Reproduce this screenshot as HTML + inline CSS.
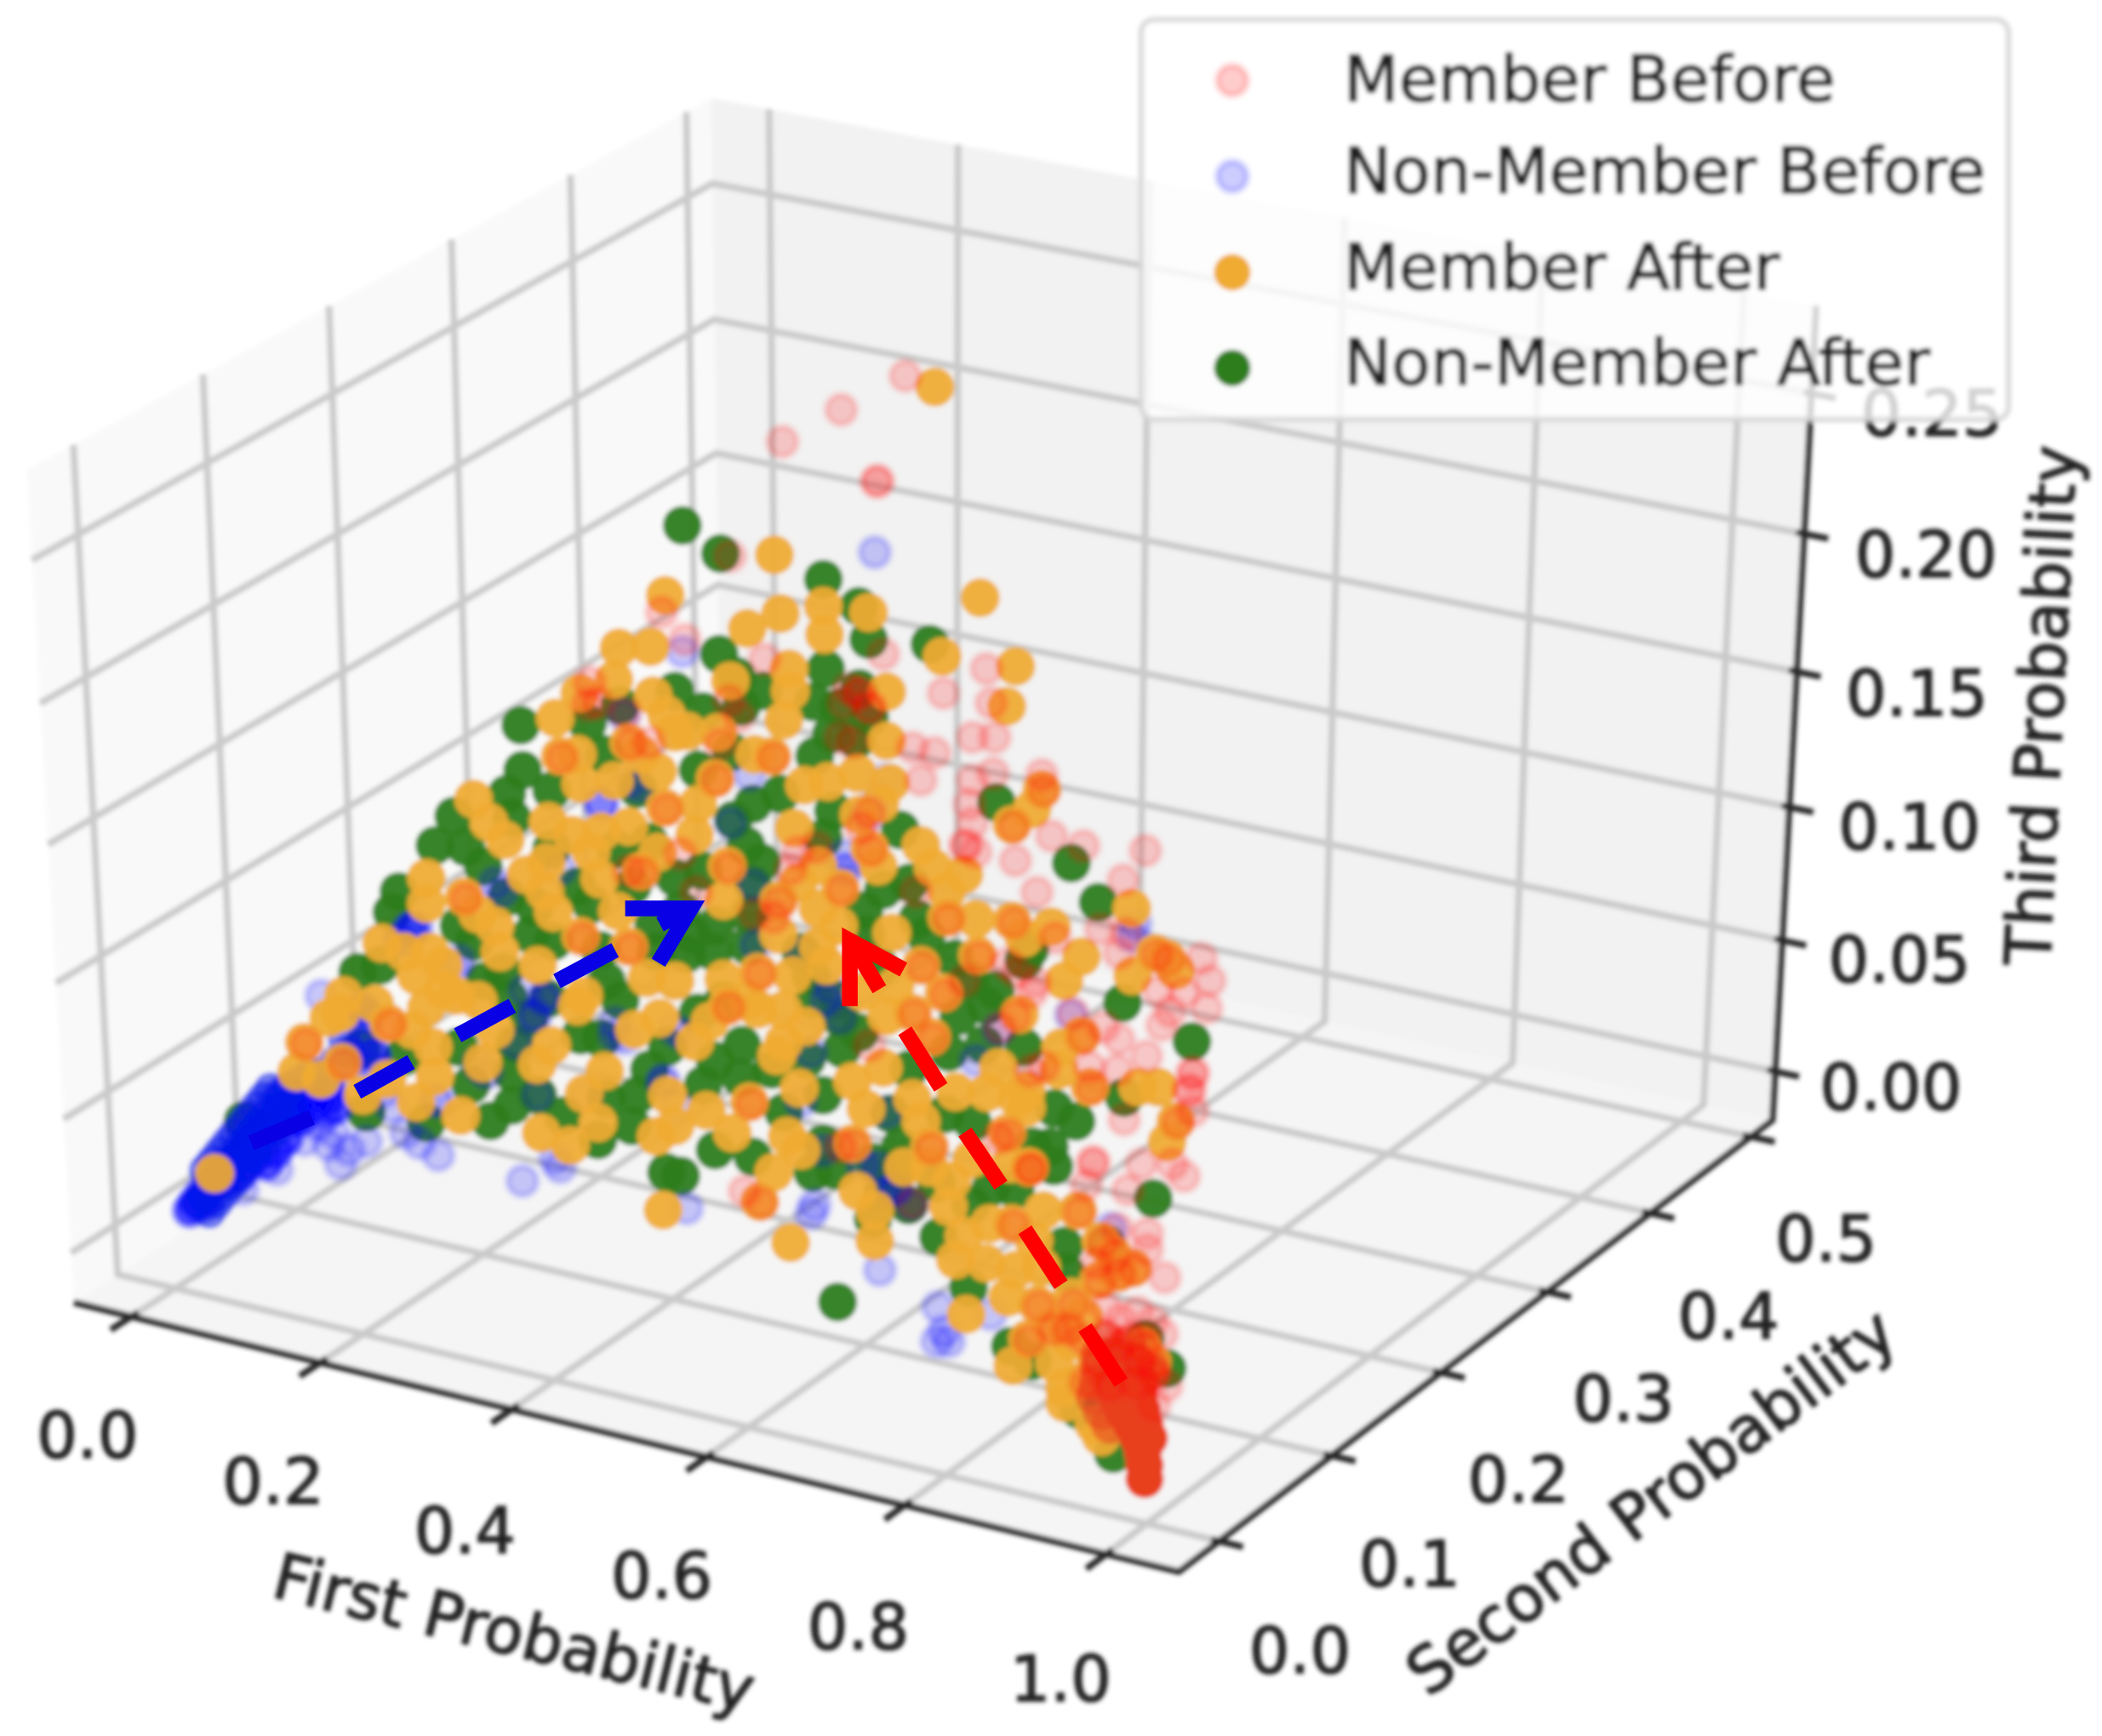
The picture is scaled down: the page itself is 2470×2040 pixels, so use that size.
<!DOCTYPE html>
<html><head><meta charset="utf-8"><title>Probability scatter</title><style>html,body{margin:0;padding:0;background:#fff}svg{display:block}</style></head><body>
<svg width="2470" height="2040" viewBox="0 0 2470 2040"><defs><filter id="b" x="0" y="0" width="100%" height="100%" filterUnits="userSpaceOnUse"><feGaussianBlur stdDeviation="2.6"/></filter></defs><rect width="2470" height="2040" fill="#fff"/><g filter="url(#b)">
<polygon points="86.8,1530.5 848.6,1044.4 835.9,115.6 31.7,552.3" fill="#f9f9f9"/>
<polygon points="848.6,1044.4 2082.6,1316.2 2134.2,359.3 835.9,115.6" fill="#f2f2f2"/>
<polygon points="86.8,1530.5 1385.1,1847.0 2082.6,1316.2 848.6,1044.4" fill="#f5f5f5"/>
<g fill="none" stroke="#cacaca" stroke-width="8" stroke-linejoin="round"><polyline points="154.6,1547.0 913.2,1058.6 903.7,128.3" /><polyline points="376.4,1601.1 1124.5,1105.2 1125.7,170.0" /><polyline points="601.7,1656.0 1338.9,1152.4 1351.1,212.3" /><polyline points="830.7,1711.8 1556.6,1200.3 1580.1,255.3" /><polyline points="1063.4,1768.5 1777.5,1249.0 1812.7,299.0" /><polyline points="1299.9,1826.2 2001.8,1298.4 2049.1,343.4" /><polyline points="1432.5,1811.0 138.3,1497.6 86.3,522.7" /><polyline points="1564.5,1710.5 282.2,1405.8 238.6,440.0" /><polyline points="1692.8,1612.8 422.3,1316.4 386.6,359.6" /><polyline points="1817.6,1517.8 558.6,1229.5 530.5,281.5" /><polyline points="1939.0,1425.4 691.3,1144.7 670.4,205.5" /><polyline points="2057.1,1335.6 820.7,1062.2 806.5,131.6" /><polyline points="83.5,1472.2 847.8,988.8 2085.6,1259.0" /><polyline points="74.7,1315.0 845.8,839.2 2094.0,1105.1" /><polyline points="65.7,1155.1 843.7,687.1 2102.4,948.5" /><polyline points="56.5,992.3 841.6,532.5 2111.0,789.3" /><polyline points="47.1,826.6 839.4,375.3 2119.7,627.3" /><polyline points="37.6,658.0 837.3,215.6 2128.6,462.5" /></g>
<g fill="none" stroke="#262626" stroke-width="7.5" stroke-linejoin="miter"><polyline points="86.8,1530.5 1385.1,1847.0 2082.6,1316.2 2134.2,359.3" /><polyline points="162.2,1542.1 130.2,1562.7" /><polyline points="383.9,1596.1 352.2,1617.1" /><polyline points="609.1,1650.9 577.7,1672.4" /><polyline points="838.0,1706.6 806.9,1728.5" /><polyline points="1070.6,1763.2 1039.9,1785.6" /><polyline points="1307.1,1820.8 1276.7,1843.6" /><polyline points="1423.7,1808.8 1460.6,1817.8" /><polyline points="1555.7,1708.4 1592.7,1717.2" /><polyline points="1684.1,1610.7 1721.1,1619.4" /><polyline points="1808.8,1515.8 1845.9,1524.3" /><polyline points="1930.2,1423.5 1967.3,1431.8" /><polyline points="2048.3,1333.6 2085.4,1341.8" /><polyline points="2076.9,1257.1 2114.0,1265.2" /><polyline points="2085.2,1103.2 2122.3,1111.1" /><polyline points="2093.6,946.7 2130.8,954.4" /><polyline points="2102.2,787.5 2139.4,795.1" /><polyline points="2110.9,625.6 2148.2,632.9" /><polyline points="2119.8,460.8 2157.1,468.0" /></g>
<g font-family="'DejaVu Sans','Liberation Sans',sans-serif" stroke="#222" stroke-width="1.7" stroke-linejoin="round"><text x="102.8" y="1712.7" font-size="75" text-anchor="middle" fill="#222">0.0</text><text x="321.0" y="1767.2" font-size="75" text-anchor="middle" fill="#222">0.2</text><text x="546.4" y="1825.1" font-size="75" text-anchor="middle" fill="#222">0.4</text><text x="777.7" y="1878.4" font-size="75" text-anchor="middle" fill="#222">0.6</text><text x="1008.5" y="1937.7" font-size="75" text-anchor="middle" fill="#222">0.8</text><text x="1246.3" y="1998.6" font-size="75" text-anchor="middle" fill="#222">1.0</text><text x="1527.5" y="1966.3" font-size="75" text-anchor="middle" fill="#222">0.0</text><text x="1656.3" y="1864.0" font-size="75" text-anchor="middle" fill="#222">0.1</text><text x="1784.4" y="1765.3" font-size="75" text-anchor="middle" fill="#222">0.2</text><text x="1907.7" y="1670.1" font-size="75" text-anchor="middle" fill="#222">0.3</text><text x="2031.1" y="1573.2" font-size="75" text-anchor="middle" fill="#222">0.4</text><text x="2145.7" y="1482.1" font-size="75" text-anchor="middle" fill="#222">0.5</text><text x="2222.0" y="1304.1" font-size="75" text-anchor="middle" fill="#222">0.00</text><text x="2232.0" y="1154.3" font-size="75" text-anchor="middle" fill="#222">0.05</text><text x="2243.8" y="997.9" font-size="75" text-anchor="middle" fill="#222">0.10</text><text x="2252.6" y="841.0" font-size="75" text-anchor="middle" fill="#222">0.15</text><text x="2263.2" y="677.7" font-size="75" text-anchor="middle" fill="#222">0.20</text><text x="2270.3" y="512.0" font-size="75" text-anchor="middle" fill="#222">0.25</text><text x="602.5" y="1944.9" font-size="75" text-anchor="middle" fill="#222" transform="rotate(13.70 602.5 1925.4)">First Probability</text><text x="1944.0" y="1789.5" font-size="75" text-anchor="middle" fill="#222" transform="rotate(-37.10 1944.0 1770.0)">Second Probability</text><text x="2404.5" y="848.5" font-size="75" text-anchor="middle" fill="#222" transform="rotate(-87.00 2404.5 829.0)">Third Probability</text></g>
<g fill="#2e7d1e" fill-opacity="0.95"><circle cx="801.8" cy="617.5" r="23"/><circle cx="846.5" cy="650.6" r="23"/><circle cx="967.5" cy="680.8" r="23"/><circle cx="1009.2" cy="712.5" r="23"/><circle cx="1020.7" cy="751.4" r="23"/><circle cx="1092.7" cy="757.1" r="23"/><circle cx="845.0" cy="768.7" r="23"/><circle cx="865.2" cy="794.6" r="23"/><circle cx="970.3" cy="785.9" r="23"/><circle cx="793.2" cy="811.9" r="23"/><circle cx="285.4" cy="1316.8" r="23"/><circle cx="1258.8" cy="1014.2" r="23"/><circle cx="1290.4" cy="1060.3" r="23"/><circle cx="1169.5" cy="1163.9" r="23"/><circle cx="806.6" cy="1120.7" r="23"/><circle cx="728.8" cy="1175.5" r="23"/><circle cx="985.1" cy="1175.5" r="23"/><circle cx="849.8" cy="1175.5" r="23"/><circle cx="1250.6" cy="1463.9" r="23"/><circle cx="1299.5" cy="1461.1" r="23"/><circle cx="1138.2" cy="1512.9" r="23"/><circle cx="1345.6" cy="1573.4" r="23"/><circle cx="1187.2" cy="1582.0" r="23"/><circle cx="1371.5" cy="1607.9" r="23"/><circle cx="1213.1" cy="1599.3" r="23"/><circle cx="984.2" cy="1529.9" r="23"/><circle cx="1268.3" cy="1656.9" r="23"/><circle cx="1308.2" cy="1708.3" r="23"/><circle cx="611.9" cy="852.3" r="23"/><circle cx="595.7" cy="932.9" r="23"/><circle cx="648.1" cy="928.9" r="23"/><circle cx="533.2" cy="959.1" r="23"/><circle cx="511.0" cy="993.4" r="23"/><circle cx="547.3" cy="995.4" r="23"/><circle cx="601.8" cy="961.1" r="23"/><circle cx="690.5" cy="850.2" r="23"/><circle cx="710.6" cy="886.5" r="23"/><circle cx="468.7" cy="1047.8" r="23"/><circle cx="460.6" cy="1072.0" r="23"/><circle cx="628.0" cy="1066.0" r="23"/><circle cx="694.5" cy="1061.9" r="23"/><circle cx="624.0" cy="1098.2" r="23"/><circle cx="539.3" cy="1088.1" r="23"/><circle cx="557.4" cy="1106.3" r="23"/><circle cx="648.1" cy="997.4" r="23"/><circle cx="763.1" cy="989.4" r="23"/><circle cx="742.9" cy="1041.8" r="23"/><circle cx="793.3" cy="1031.7" r="23"/><circle cx="420.3" cy="1142.6" r="23"/><circle cx="569.5" cy="1152.7" r="23"/><circle cx="591.7" cy="1142.6" r="23"/><circle cx="650.2" cy="1106.3" r="23"/><circle cx="712.7" cy="1152.7" r="23"/><circle cx="678.4" cy="1041.8" r="23"/><circle cx="771.1" cy="1118.4" r="23"/><circle cx="446.5" cy="1134.5" r="23"/><circle cx="826.2" cy="836.1" r="23"/><circle cx="820.2" cy="904.7" r="23"/><circle cx="957.3" cy="888.5" r="23"/><circle cx="884.7" cy="945.0" r="23"/><circle cx="916.9" cy="932.9" r="23"/><circle cx="979.4" cy="953.1" r="23"/><circle cx="1058.1" cy="975.2" r="23"/><circle cx="1171.0" cy="943.0" r="23"/><circle cx="876.6" cy="993.4" r="23"/><circle cx="894.8" cy="1013.5" r="23"/><circle cx="826.2" cy="1023.6" r="23"/><circle cx="884.7" cy="1039.8" r="23"/><circle cx="1037.9" cy="1045.8" r="23"/><circle cx="1021.8" cy="842.2" r="23"/><circle cx="1078.2" cy="1080.1" r="23"/><circle cx="840.3" cy="1088.1" r="23"/><circle cx="1088.3" cy="1100.2" r="23"/><circle cx="1203.2" cy="1128.5" r="23"/><circle cx="941.1" cy="1118.4" r="23"/><circle cx="1017.7" cy="1098.2" r="23"/><circle cx="953.2" cy="1146.6" r="23"/><circle cx="812.1" cy="1098.2" r="23"/><circle cx="539.3" cy="1230.5" r="23"/><circle cx="553.4" cy="1274.8" r="23"/><circle cx="601.8" cy="1260.7" r="23"/><circle cx="632.0" cy="1286.9" r="23"/><circle cx="601.8" cy="1299.0" r="23"/><circle cx="682.4" cy="1216.4" r="23"/><circle cx="706.6" cy="1220.4" r="23"/><circle cx="662.3" cy="1311.1" r="23"/><circle cx="763.1" cy="1256.7" r="23"/><circle cx="749.0" cy="1286.9" r="23"/><circle cx="702.6" cy="1339.4" r="23"/><circle cx="742.9" cy="1323.2" r="23"/><circle cx="783.2" cy="1377.7" r="23"/><circle cx="430.4" cy="1307.1" r="23"/><circle cx="501.0" cy="1319.2" r="23"/><circle cx="621.9" cy="1196.2" r="23"/><circle cx="712.7" cy="1291.0" r="23"/><circle cx="820.2" cy="1190.2" r="23"/><circle cx="840.3" cy="1246.6" r="23"/><circle cx="826.2" cy="1274.8" r="23"/><circle cx="870.6" cy="1266.8" r="23"/><circle cx="906.9" cy="1256.7" r="23"/><circle cx="921.0" cy="1307.1" r="23"/><circle cx="967.3" cy="1286.9" r="23"/><circle cx="840.3" cy="1351.5" r="23"/><circle cx="884.7" cy="1359.5" r="23"/><circle cx="955.2" cy="1377.7" r="23"/><circle cx="981.5" cy="1375.6" r="23"/><circle cx="1058.1" cy="1347.4" r="23"/><circle cx="1054.0" cy="1375.6" r="23"/><circle cx="1037.9" cy="1401.9" r="23"/><circle cx="987.5" cy="1196.2" r="23"/><circle cx="1126.6" cy="1194.2" r="23"/><circle cx="1158.9" cy="1182.1" r="23"/><circle cx="1114.5" cy="1236.5" r="23"/><circle cx="1068.1" cy="1256.7" r="23"/><circle cx="1142.7" cy="1319.2" r="23"/><circle cx="1203.2" cy="1230.5" r="23"/><circle cx="1140.7" cy="1416.0" r="23"/><circle cx="1100.4" cy="1389.8" r="23"/><circle cx="1025.8" cy="1432.1" r="23"/><circle cx="1213.3" cy="1347.4" r="23"/><circle cx="1193.1" cy="1397.8" r="23"/><circle cx="800.0" cy="1381.7" r="23"/><circle cx="1319.0" cy="1178.6" r="23"/><circle cx="1400.6" cy="1224.0" r="23"/><circle cx="1264.5" cy="1317.7" r="23"/><circle cx="1233.3" cy="1348.0" r="23"/><circle cx="1238.3" cy="1370.2" r="23"/><circle cx="1355.2" cy="1408.5" r="23"/><circle cx="1210.1" cy="1116.1" r="23"/><circle cx="1321.0" cy="1289.5" r="23"/><circle cx="878.6" cy="1111.5" r="23"/><circle cx="1015.2" cy="1070.1" r="23"/><circle cx="784.0" cy="1230.2" r="23"/><circle cx="424.6" cy="1231.8" r="23"/><circle cx="1067.5" cy="1416.3" r="23"/><circle cx="955.6" cy="824.9" r="23"/><circle cx="1164.7" cy="1395.2" r="23"/><circle cx="799.7" cy="1069.4" r="23"/><circle cx="989.4" cy="1232.5" r="23"/><circle cx="967.4" cy="985.1" r="23"/><circle cx="1238.9" cy="1302.4" r="23"/><circle cx="871.1" cy="830.2" r="23"/><circle cx="768.1" cy="1088.1" r="23"/><circle cx="749.2" cy="927.3" r="23"/><circle cx="1033.8" cy="1136.8" r="23"/><circle cx="1068.5" cy="1037.5" r="23"/><circle cx="1010.1" cy="1213.4" r="23"/><circle cx="879.7" cy="1074.2" r="23"/><circle cx="1102.7" cy="1453.4" r="23"/><circle cx="473.7" cy="1242.3" r="23"/><circle cx="871.9" cy="1228.0" r="23"/><circle cx="838.3" cy="1118.5" r="23"/><circle cx="976.9" cy="862.6" r="23"/><circle cx="861.8" cy="963.5" r="23"/><circle cx="1046.3" cy="1308.7" r="23"/><circle cx="859.6" cy="883.4" r="23"/><circle cx="1006.2" cy="869.2" r="23"/><circle cx="644.3" cy="1173.4" r="23"/><circle cx="705.5" cy="1116.7" r="23"/><circle cx="985.6" cy="831.3" r="23"/><circle cx="728.7" cy="828.9" r="23"/><circle cx="576.3" cy="1317.2" r="23"/><circle cx="724.4" cy="998.3" r="23"/><circle cx="567.7" cy="1018.0" r="23"/><circle cx="1156.2" cy="1227.4" r="23"/><circle cx="595.7" cy="1054.2" r="23"/><circle cx="896.4" cy="811.9" r="23"/><circle cx="614.2" cy="905.0" r="23"/><circle cx="1110.7" cy="1308.9" r="23"/><circle cx="967.3" cy="1344.0" r="23"/><circle cx="1121.3" cy="1126.8" r="23"/><circle cx="1139.6" cy="1152.0" r="23"/><circle cx="1252.1" cy="1495.0" r="23"/><circle cx="1026.3" cy="1365.7" r="23"/><circle cx="947.8" cy="1244.6" r="23"/><circle cx="1009.9" cy="809.0" r="23"/><circle cx="605.1" cy="1226.7" r="23"/><circle cx="597.7" cy="1172.5" r="23"/><circle cx="955.8" cy="1174.2" r="23"/></g>
<g fill="#0000ff" fill-opacity="0.2" stroke="#0000ff" stroke-opacity="0.13" stroke-width="9"><circle cx="1027.9" cy="649.1" r="17.5"/><circle cx="801.8" cy="765.8" r="17.5"/><circle cx="227.8" cy="1414.7" r="17.5"/><circle cx="228.8" cy="1413.7" r="17.5"/><circle cx="229.8" cy="1412.7" r="17.5"/><circle cx="230.8" cy="1411.7" r="17.5"/><circle cx="236.4" cy="1403.2" r="17.5"/><circle cx="237.4" cy="1402.2" r="17.5"/><circle cx="238.4" cy="1401.2" r="17.5"/><circle cx="239.4" cy="1400.2" r="17.5"/><circle cx="247.9" cy="1394.6" r="17.5"/><circle cx="248.9" cy="1393.6" r="17.5"/><circle cx="249.9" cy="1392.6" r="17.5"/><circle cx="250.9" cy="1391.6" r="17.5"/><circle cx="259.4" cy="1380.2" r="17.5"/><circle cx="260.4" cy="1379.2" r="17.5"/><circle cx="261.4" cy="1378.2" r="17.5"/><circle cx="262.4" cy="1377.2" r="17.5"/><circle cx="271.0" cy="1368.7" r="17.5"/><circle cx="272.0" cy="1367.7" r="17.5"/><circle cx="273.0" cy="1366.7" r="17.5"/><circle cx="274.0" cy="1365.7" r="17.5"/><circle cx="282.5" cy="1357.1" r="17.5"/><circle cx="283.5" cy="1356.1" r="17.5"/><circle cx="284.5" cy="1355.1" r="17.5"/><circle cx="285.5" cy="1354.1" r="17.5"/><circle cx="294.0" cy="1345.6" r="17.5"/><circle cx="295.0" cy="1344.6" r="17.5"/><circle cx="296.0" cy="1343.6" r="17.5"/><circle cx="297.0" cy="1342.6" r="17.5"/><circle cx="305.5" cy="1334.1" r="17.5"/><circle cx="306.5" cy="1333.1" r="17.5"/><circle cx="307.5" cy="1332.1" r="17.5"/><circle cx="308.5" cy="1331.1" r="17.5"/><circle cx="317.1" cy="1322.6" r="17.5"/><circle cx="318.1" cy="1321.6" r="17.5"/><circle cx="319.1" cy="1320.6" r="17.5"/><circle cx="320.1" cy="1319.6" r="17.5"/><circle cx="328.6" cy="1311.1" r="17.5"/><circle cx="329.6" cy="1310.1" r="17.5"/><circle cx="330.6" cy="1309.1" r="17.5"/><circle cx="331.6" cy="1308.1" r="17.5"/><circle cx="340.1" cy="1299.5" r="17.5"/><circle cx="341.1" cy="1298.5" r="17.5"/><circle cx="342.1" cy="1297.5" r="17.5"/><circle cx="343.1" cy="1296.5" r="17.5"/><circle cx="351.6" cy="1288.0" r="17.5"/><circle cx="352.6" cy="1287.0" r="17.5"/><circle cx="353.6" cy="1286.0" r="17.5"/><circle cx="354.6" cy="1285.0" r="17.5"/><circle cx="334.3" cy="1339.9" r="17.5"/><circle cx="335.3" cy="1338.9" r="17.5"/><circle cx="336.3" cy="1337.9" r="17.5"/><circle cx="337.3" cy="1336.9" r="17.5"/><circle cx="322.8" cy="1354.3" r="17.5"/><circle cx="323.8" cy="1353.3" r="17.5"/><circle cx="324.8" cy="1352.3" r="17.5"/><circle cx="325.8" cy="1351.3" r="17.5"/><circle cx="311.3" cy="1368.7" r="17.5"/><circle cx="312.3" cy="1367.7" r="17.5"/><circle cx="313.3" cy="1366.7" r="17.5"/><circle cx="314.3" cy="1365.7" r="17.5"/><circle cx="279.6" cy="1383.1" r="17.5"/><circle cx="280.6" cy="1382.1" r="17.5"/><circle cx="281.6" cy="1381.1" r="17.5"/><circle cx="282.6" cy="1380.1" r="17.5"/><circle cx="351.6" cy="1316.8" r="17.5"/><circle cx="352.6" cy="1315.8" r="17.5"/><circle cx="353.6" cy="1314.8" r="17.5"/><circle cx="354.6" cy="1313.8" r="17.5"/><circle cx="366.0" cy="1302.4" r="17.5"/><circle cx="367.0" cy="1301.4" r="17.5"/><circle cx="368.0" cy="1300.4" r="17.5"/><circle cx="369.0" cy="1299.4" r="17.5"/><circle cx="328.6" cy="1288.0" r="17.5"/><circle cx="329.6" cy="1287.0" r="17.5"/><circle cx="330.6" cy="1286.0" r="17.5"/><circle cx="331.6" cy="1285.0" r="17.5"/><circle cx="236.4" cy="1417.6" r="17.5"/><circle cx="237.4" cy="1416.6" r="17.5"/><circle cx="238.4" cy="1415.6" r="17.5"/><circle cx="239.4" cy="1414.6" r="17.5"/><circle cx="222.0" cy="1423.4" r="17.5"/><circle cx="223.0" cy="1422.4" r="17.5"/><circle cx="224.0" cy="1421.4" r="17.5"/><circle cx="225.0" cy="1420.4" r="17.5"/><circle cx="299.8" cy="1360.0" r="17.5"/><circle cx="300.8" cy="1359.0" r="17.5"/><circle cx="301.8" cy="1358.0" r="17.5"/><circle cx="302.8" cy="1357.0" r="17.5"/><circle cx="288.2" cy="1371.5" r="17.5"/><circle cx="289.2" cy="1370.5" r="17.5"/><circle cx="290.2" cy="1369.5" r="17.5"/><circle cx="291.2" cy="1368.5" r="17.5"/><circle cx="265.2" cy="1388.8" r="17.5"/><circle cx="266.2" cy="1387.8" r="17.5"/><circle cx="267.2" cy="1386.8" r="17.5"/><circle cx="268.2" cy="1385.8" r="17.5"/><circle cx="245.0" cy="1409.0" r="17.5"/><circle cx="246.0" cy="1408.0" r="17.5"/><circle cx="247.0" cy="1407.0" r="17.5"/><circle cx="248.0" cy="1406.0" r="17.5"/><circle cx="363.1" cy="1288.0" r="17.5"/><circle cx="364.1" cy="1287.0" r="17.5"/><circle cx="365.1" cy="1286.0" r="17.5"/><circle cx="366.1" cy="1285.0" r="17.5"/><circle cx="340.1" cy="1316.8" r="17.5"/><circle cx="341.1" cy="1315.8" r="17.5"/><circle cx="342.1" cy="1314.8" r="17.5"/><circle cx="343.1" cy="1313.8" r="17.5"/><circle cx="386.2" cy="1345.6" r="17.5"/><circle cx="325.7" cy="1374.4" r="17.5"/><circle cx="285.4" cy="1397.5" r="17.5"/><circle cx="377.5" cy="1169.9" r="17.5"/><circle cx="616.6" cy="1164.2" r="17.5"/><circle cx="639.6" cy="1172.8" r="17.5"/><circle cx="639.6" cy="1172.8" r="17.5"/><circle cx="374.7" cy="1322.6" r="17.5"/><circle cx="357.4" cy="1339.9" r="17.5"/><circle cx="970.7" cy="1175.5" r="17.5"/><circle cx="806.6" cy="1218.7" r="17.5"/><circle cx="795.0" cy="1299.3" r="17.5"/><circle cx="1334.3" cy="1085.9" r="17.5"/><circle cx="1102.2" cy="1535.9" r="17.5"/><circle cx="1164.2" cy="1544.6" r="17.5"/><circle cx="1109.4" cy="1564.7" r="17.5"/><circle cx="1115.2" cy="1576.3" r="17.5"/><circle cx="1100.8" cy="1576.3" r="17.5"/><circle cx="1305.3" cy="1443.8" r="17.5"/><circle cx="807.1" cy="1419.9" r="17.5"/><circle cx="581.6" cy="1037.7" r="17.5"/><circle cx="589.7" cy="1047.8" r="17.5"/><circle cx="539.3" cy="1128.5" r="17.5"/><circle cx="533.2" cy="1138.5" r="17.5"/><circle cx="480.8" cy="1092.2" r="17.5"/><circle cx="480.8" cy="1092.2" r="17.5"/><circle cx="488.9" cy="1090.2" r="17.5"/><circle cx="488.9" cy="1090.2" r="17.5"/><circle cx="742.9" cy="916.8" r="17.5"/><circle cx="751.0" cy="924.8" r="17.5"/><circle cx="706.6" cy="945.0" r="17.5"/><circle cx="706.6" cy="945.0" r="17.5"/><circle cx="706.6" cy="945.0" r="17.5"/><circle cx="658.2" cy="1021.6" r="17.5"/><circle cx="732.8" cy="840.2" r="17.5"/><circle cx="1039.9" cy="916.8" r="17.5"/><circle cx="1031.9" cy="936.9" r="17.5"/><circle cx="991.5" cy="1005.5" r="17.5"/><circle cx="993.5" cy="1021.6" r="17.5"/><circle cx="993.5" cy="1021.6" r="17.5"/><circle cx="858.5" cy="967.2" r="17.5"/><circle cx="880.6" cy="910.7" r="17.5"/><circle cx="888.7" cy="1110.3" r="17.5"/><circle cx="975.4" cy="1160.7" r="17.5"/><circle cx="884.7" cy="1039.8" r="17.5"/><circle cx="941.1" cy="1118.4" r="17.5"/><circle cx="1019.8" cy="957.1" r="17.5"/><circle cx="392.1" cy="1331.3" r="17.5"/><circle cx="410.2" cy="1351.5" r="17.5"/><circle cx="430.4" cy="1341.4" r="17.5"/><circle cx="400.2" cy="1367.6" r="17.5"/><circle cx="476.8" cy="1331.3" r="17.5"/><circle cx="492.9" cy="1343.4" r="17.5"/><circle cx="515.1" cy="1357.5" r="17.5"/><circle cx="460.6" cy="1301.0" r="17.5"/><circle cx="450.6" cy="1282.9" r="17.5"/><circle cx="561.5" cy="1250.6" r="17.5"/><circle cx="571.5" cy="1260.7" r="17.5"/><circle cx="613.9" cy="1387.7" r="17.5"/><circle cx="652.2" cy="1361.5" r="17.5"/><circle cx="658.2" cy="1371.6" r="17.5"/><circle cx="722.7" cy="1216.4" r="17.5"/><circle cx="734.8" cy="1220.4" r="17.5"/><circle cx="688.5" cy="1286.9" r="17.5"/><circle cx="607.8" cy="1226.5" r="17.5"/><circle cx="428.4" cy="1186.1" r="17.5"/><circle cx="428.4" cy="1186.1" r="17.5"/><circle cx="438.5" cy="1240.6" r="17.5"/><circle cx="438.5" cy="1240.6" r="17.5"/><circle cx="440.5" cy="1254.7" r="17.5"/><circle cx="440.5" cy="1254.7" r="17.5"/><circle cx="513.1" cy="1293.0" r="17.5"/><circle cx="513.1" cy="1293.0" r="17.5"/><circle cx="628.0" cy="1194.2" r="17.5"/><circle cx="628.0" cy="1194.2" r="17.5"/><circle cx="779.2" cy="1270.8" r="17.5"/><circle cx="779.2" cy="1270.8" r="17.5"/><circle cx="793.3" cy="1210.3" r="17.5"/><circle cx="722.7" cy="1202.3" r="17.5"/><circle cx="632.0" cy="1286.9" r="17.5"/><circle cx="386.0" cy="1291.0" r="17.5"/><circle cx="387.0" cy="1290.0" r="17.5"/><circle cx="388.0" cy="1289.0" r="17.5"/><circle cx="389.0" cy="1288.0" r="17.5"/><circle cx="392.1" cy="1303.1" r="17.5"/><circle cx="393.1" cy="1302.1" r="17.5"/><circle cx="394.1" cy="1301.1" r="17.5"/><circle cx="395.1" cy="1300.1" r="17.5"/><circle cx="382.0" cy="1309.1" r="17.5"/><circle cx="383.0" cy="1308.1" r="17.5"/><circle cx="384.0" cy="1278.9" r="17.5"/><circle cx="385.0" cy="1277.9" r="17.5"/><circle cx="386.0" cy="1276.9" r="17.5"/><circle cx="387.0" cy="1275.9" r="17.5"/><circle cx="953.2" cy="1236.5" r="17.5"/><circle cx="941.1" cy="1295.0" r="17.5"/><circle cx="1041.9" cy="1307.1" r="17.5"/><circle cx="967.3" cy="1351.5" r="17.5"/><circle cx="1013.7" cy="1369.6" r="17.5"/><circle cx="1031.9" cy="1371.6" r="17.5"/><circle cx="957.3" cy="1416.0" r="17.5"/><circle cx="953.2" cy="1426.0" r="17.5"/><circle cx="1033.9" cy="1492.6" r="17.5"/><circle cx="1052.0" cy="1397.8" r="17.5"/><circle cx="1052.0" cy="1397.8" r="17.5"/><circle cx="1146.8" cy="1246.6" r="17.5"/><circle cx="1037.9" cy="1401.9" r="17.5"/><circle cx="987.5" cy="1196.2" r="17.5"/><circle cx="1070.2" cy="1416.0" r="17.5"/><circle cx="1173.0" cy="1210.3" r="17.5"/><circle cx="1258.5" cy="1192.7" r="17.5"/><circle cx="1331.0" cy="1100.0" r="17.5"/></g>
<g fill="#0519ea" fill-opacity="0.55"><circle cx="232.0" cy="1412.0" r="20"/><circle cx="239.2" cy="1403.1" r="20"/><circle cx="246.4" cy="1394.1" r="20"/><circle cx="253.6" cy="1385.2" r="20"/><circle cx="260.8" cy="1376.3" r="20"/><circle cx="268.0" cy="1367.3" r="20"/><circle cx="275.2" cy="1358.4" r="20"/><circle cx="282.4" cy="1349.5" r="20"/><circle cx="289.6" cy="1340.5" r="20"/><circle cx="296.8" cy="1331.6" r="20"/><circle cx="304.0" cy="1322.7" r="20"/><circle cx="311.2" cy="1313.7" r="20"/><circle cx="318.4" cy="1304.8" r="20"/><circle cx="325.6" cy="1295.9" r="20"/><circle cx="332.8" cy="1286.9" r="20"/><circle cx="340.0" cy="1278.0" r="20"/><circle cx="246.0" cy="1424.0" r="20"/><circle cx="254.7" cy="1413.1" r="20"/><circle cx="263.5" cy="1402.2" r="20"/><circle cx="272.2" cy="1391.3" r="20"/><circle cx="280.9" cy="1380.4" r="20"/><circle cx="289.6" cy="1369.5" r="20"/><circle cx="298.4" cy="1358.5" r="20"/><circle cx="307.1" cy="1347.6" r="20"/><circle cx="315.8" cy="1336.7" r="20"/><circle cx="324.5" cy="1325.8" r="20"/><circle cx="333.3" cy="1314.9" r="20"/><circle cx="342.0" cy="1304.0" r="20"/><circle cx="241.5" cy="1375.2" r="20"/><circle cx="250.0" cy="1364.6" r="20"/><circle cx="258.5" cy="1354.0" r="20"/><circle cx="267.0" cy="1343.5" r="20"/><circle cx="275.5" cy="1332.9" r="20"/><circle cx="284.0" cy="1322.3" r="20"/><circle cx="292.5" cy="1311.7" r="20"/><circle cx="301.0" cy="1301.2" r="20"/><circle cx="309.5" cy="1290.6" r="20"/><circle cx="318.0" cy="1280.0" r="20"/><circle cx="352.0" cy="1270.0" r="20"/><circle cx="366.0" cy="1262.0" r="20"/><circle cx="380.0" cy="1262.0" r="20"/><circle cx="395.0" cy="1248.0" r="20"/><circle cx="410.0" cy="1236.0" r="20"/><circle cx="425.0" cy="1225.0" r="20"/><circle cx="440.0" cy="1240.0" r="20"/><circle cx="424.0" cy="1186.0" r="20"/><circle cx="432.0" cy="1196.0" r="20"/><circle cx="484.0" cy="1092.0" r="20"/><circle cx="470.0" cy="1105.0" r="20"/><circle cx="405.0" cy="1222.0" r="20"/></g>
<g fill="#f0ab33" fill-opacity="0.93"><circle cx="1098.5" cy="454.7" r="23"/><circle cx="909.9" cy="652.0" r="23"/><circle cx="781.7" cy="699.5" r="23"/><circle cx="1151.8" cy="702.4" r="23"/><circle cx="917.1" cy="721.1" r="23"/><circle cx="967.5" cy="712.5" r="23"/><circle cx="1020.7" cy="719.7" r="23"/><circle cx="878.2" cy="738.4" r="23"/><circle cx="968.9" cy="745.6" r="23"/><circle cx="764.4" cy="760.0" r="23"/><circle cx="1107.1" cy="771.5" r="23"/><circle cx="1193.5" cy="783.1" r="23"/><circle cx="927.1" cy="785.9" r="23"/><circle cx="858.0" cy="800.3" r="23"/><circle cx="928.6" cy="811.9" r="23"/><circle cx="767.3" cy="817.6" r="23"/><circle cx="793.2" cy="860.8" r="23"/><circle cx="727.3" cy="761.3" r="23"/><circle cx="721.5" cy="798.7" r="23"/><circle cx="807.9" cy="859.2" r="23"/><circle cx="535.9" cy="1169.9" r="23"/><circle cx="561.9" cy="1175.7" r="23"/><circle cx="403.5" cy="1169.9" r="23"/><circle cx="386.2" cy="1195.9" r="23"/><circle cx="348.7" cy="1259.2" r="23"/><circle cx="377.5" cy="1267.9" r="23"/><circle cx="685.7" cy="1169.9" r="23"/><circle cx="252.2" cy="1378.7" r="23"/><circle cx="357.4" cy="1224.7" r="23"/><circle cx="1212.7" cy="950.8" r="23"/><circle cx="1235.7" cy="1089.1" r="23"/><circle cx="878.6" cy="1175.5" r="23"/><circle cx="1224.2" cy="927.8" r="23"/><circle cx="1109.0" cy="1166.8" r="23"/><circle cx="1330.0" cy="1067.2" r="23"/><circle cx="1184.3" cy="1524.4" r="23"/><circle cx="1259.2" cy="1524.4" r="23"/><circle cx="1135.4" cy="1544.6" r="23"/><circle cx="1273.6" cy="1547.5" r="23"/><circle cx="1259.2" cy="1576.3" r="23"/><circle cx="1190.1" cy="1605.1" r="23"/><circle cx="1239.1" cy="1602.2" r="23"/><circle cx="1250.6" cy="1631.0" r="23"/><circle cx="1293.8" cy="1458.2" r="23"/><circle cx="1313.9" cy="1495.6" r="23"/><circle cx="1290.9" cy="1504.3" r="23"/><circle cx="1331.2" cy="1489.9" r="23"/><circle cx="1218.9" cy="1533.1" r="23"/><circle cx="1207.4" cy="1573.4" r="23"/><circle cx="1342.7" cy="1582.0" r="23"/><circle cx="1288.0" cy="1599.3" r="23"/><circle cx="1302.4" cy="1625.2" r="23"/><circle cx="1331.2" cy="1622.4" r="23"/><circle cx="1273.6" cy="1622.4" r="23"/><circle cx="1308.2" cy="1474.2" r="23"/><circle cx="1254.0" cy="1559.9" r="23"/><circle cx="1353.9" cy="1599.8" r="23"/><circle cx="1236.9" cy="1559.9" r="23"/><circle cx="1251.1" cy="1648.4" r="23"/><circle cx="1285.4" cy="1674.1" r="23"/><circle cx="1293.9" cy="1688.3" r="23"/><circle cx="678.4" cy="886.5" r="23"/><circle cx="682.4" cy="920.8" r="23"/><circle cx="593.7" cy="987.3" r="23"/><circle cx="644.1" cy="965.2" r="23"/><circle cx="672.3" cy="981.3" r="23"/><circle cx="706.6" cy="977.3" r="23"/><circle cx="694.5" cy="1001.5" r="23"/><circle cx="738.9" cy="971.2" r="23"/><circle cx="753.0" cy="886.5" r="23"/><circle cx="773.1" cy="906.7" r="23"/><circle cx="783.2" cy="840.2" r="23"/><circle cx="501.0" cy="1031.7" r="23"/><circle cx="501.0" cy="1061.9" r="23"/><circle cx="561.5" cy="1074.0" r="23"/><circle cx="581.6" cy="1088.1" r="23"/><circle cx="617.9" cy="1027.7" r="23"/><circle cx="640.1" cy="1047.8" r="23"/><circle cx="650.2" cy="1072.0" r="23"/><circle cx="587.7" cy="1118.4" r="23"/><circle cx="632.0" cy="1134.5" r="23"/><circle cx="773.1" cy="1001.5" r="23"/><circle cx="448.5" cy="1108.3" r="23"/><circle cx="474.8" cy="1118.4" r="23"/><circle cx="505.0" cy="1118.4" r="23"/><circle cx="521.1" cy="1134.5" r="23"/><circle cx="488.9" cy="1146.6" r="23"/><circle cx="521.1" cy="1162.7" r="23"/><circle cx="793.3" cy="1152.7" r="23"/><circle cx="642.1" cy="1013.5" r="23"/><circle cx="658.2" cy="888.5" r="23"/><circle cx="781.2" cy="949.0" r="23"/><circle cx="738.9" cy="872.4" r="23"/><circle cx="545.3" cy="1053.9" r="23"/><circle cx="682.4" cy="1100.2" r="23"/><circle cx="738.9" cy="1112.3" r="23"/><circle cx="753.0" cy="1023.6" r="23"/><circle cx="921.0" cy="846.2" r="23"/><circle cx="886.7" cy="886.5" r="23"/><circle cx="1041.9" cy="870.4" r="23"/><circle cx="1183.1" cy="830.1" r="23"/><circle cx="1007.7" cy="908.7" r="23"/><circle cx="945.2" cy="922.8" r="23"/><circle cx="820.2" cy="945.0" r="23"/><circle cx="933.1" cy="973.2" r="23"/><circle cx="816.1" cy="981.3" r="23"/><circle cx="1082.3" cy="993.4" r="23"/><circle cx="1031.9" cy="1017.6" r="23"/><circle cx="1096.4" cy="1019.6" r="23"/><circle cx="961.3" cy="1017.6" r="23"/><circle cx="1132.7" cy="1027.7" r="23"/><circle cx="850.4" cy="1057.9" r="23"/><circle cx="961.3" cy="1068.0" r="23"/><circle cx="1146.8" cy="1080.1" r="23"/><circle cx="985.5" cy="1088.1" r="23"/><circle cx="914.9" cy="1098.2" r="23"/><circle cx="1048.0" cy="1096.2" r="23"/><circle cx="961.3" cy="1112.3" r="23"/><circle cx="850.4" cy="1150.6" r="23"/><circle cx="931.0" cy="1146.6" r="23"/><circle cx="1052.0" cy="1158.7" r="23"/><circle cx="971.4" cy="1134.5" r="23"/><circle cx="1203.2" cy="1102.3" r="23"/><circle cx="1112.5" cy="1047.8" r="23"/><circle cx="906.9" cy="888.5" r="23"/><circle cx="840.3" cy="914.8" r="23"/><circle cx="1189.1" cy="969.2" r="23"/><circle cx="1021.8" cy="997.4" r="23"/><circle cx="854.4" cy="1017.6" r="23"/><circle cx="914.9" cy="1057.9" r="23"/><circle cx="987.5" cy="1043.8" r="23"/><circle cx="1112.5" cy="1078.1" r="23"/><circle cx="1189.1" cy="1082.1" r="23"/><circle cx="1148.8" cy="1122.4" r="23"/><circle cx="890.7" cy="1142.6" r="23"/><circle cx="1082.3" cy="1134.5" r="23"/><circle cx="400.2" cy="1190.2" r="23"/><circle cx="440.5" cy="1180.1" r="23"/><circle cx="501.0" cy="1184.1" r="23"/><circle cx="509.0" cy="1230.5" r="23"/><circle cx="484.8" cy="1210.3" r="23"/><circle cx="511.0" cy="1264.8" r="23"/><circle cx="488.9" cy="1295.0" r="23"/><circle cx="541.3" cy="1311.1" r="23"/><circle cx="426.4" cy="1286.9" r="23"/><circle cx="581.6" cy="1210.3" r="23"/><circle cx="648.1" cy="1228.5" r="23"/><circle cx="678.4" cy="1182.1" r="23"/><circle cx="710.6" cy="1258.7" r="23"/><circle cx="775.2" cy="1196.2" r="23"/><circle cx="636.0" cy="1331.3" r="23"/><circle cx="702.6" cy="1319.2" r="23"/><circle cx="771.1" cy="1335.3" r="23"/><circle cx="779.2" cy="1422.0" r="23"/><circle cx="793.3" cy="1323.2" r="23"/><circle cx="456.6" cy="1202.3" r="23"/><circle cx="402.2" cy="1248.6" r="23"/><circle cx="834.3" cy="1200.2" r="23"/><circle cx="890.7" cy="1186.1" r="23"/><circle cx="921.0" cy="1224.4" r="23"/><circle cx="947.2" cy="1206.3" r="23"/><circle cx="912.9" cy="1240.6" r="23"/><circle cx="830.2" cy="1305.1" r="23"/><circle cx="860.5" cy="1331.3" r="23"/><circle cx="925.0" cy="1335.3" r="23"/><circle cx="1001.6" cy="1270.8" r="23"/><circle cx="1037.9" cy="1254.7" r="23"/><circle cx="1017.7" cy="1303.1" r="23"/><circle cx="1072.2" cy="1291.0" r="23"/><circle cx="1122.6" cy="1282.9" r="23"/><circle cx="1173.0" cy="1254.7" r="23"/><circle cx="1195.2" cy="1291.0" r="23"/><circle cx="941.1" cy="1351.5" r="23"/><circle cx="1092.3" cy="1371.6" r="23"/><circle cx="1187.1" cy="1367.6" r="23"/><circle cx="1007.7" cy="1399.8" r="23"/><circle cx="1027.8" cy="1422.0" r="23"/><circle cx="929.0" cy="1460.3" r="23"/><circle cx="1027.8" cy="1458.3" r="23"/><circle cx="1118.5" cy="1387.7" r="23"/><circle cx="1114.5" cy="1418.0" r="23"/><circle cx="1162.9" cy="1438.1" r="23"/><circle cx="1132.7" cy="1452.3" r="23"/><circle cx="1122.6" cy="1480.5" r="23"/><circle cx="1158.9" cy="1484.5" r="23"/><circle cx="1193.1" cy="1492.6" r="23"/><circle cx="1041.9" cy="1194.2" r="23"/><circle cx="1062.1" cy="1371.6" r="23"/><circle cx="854.4" cy="1182.1" r="23"/><circle cx="880.6" cy="1295.0" r="23"/><circle cx="1001.6" cy="1343.4" r="23"/><circle cx="1092.3" cy="1347.4" r="23"/><circle cx="1183.1" cy="1331.3" r="23"/><circle cx="892.7" cy="1411.9" r="23"/><circle cx="1189.1" cy="1438.1" r="23"/><circle cx="1072.2" cy="1190.2" r="23"/><circle cx="1094.4" cy="1218.4" r="23"/><circle cx="1209.3" cy="1371.6" r="23"/><circle cx="1209.3" cy="1371.6" r="23"/><circle cx="1270.6" cy="1124.2" r="23"/><circle cx="1250.4" cy="1152.4" r="23"/><circle cx="1331.0" cy="1146.4" r="23"/><circle cx="1381.5" cy="1140.3" r="23"/><circle cx="1246.4" cy="1231.0" r="23"/><circle cx="1244.4" cy="1257.3" r="23"/><circle cx="1337.1" cy="1277.4" r="23"/><circle cx="1361.3" cy="1277.4" r="23"/><circle cx="1371.4" cy="1341.9" r="23"/><circle cx="1226.2" cy="1422.6" r="23"/><circle cx="1206.0" cy="1281.5" r="23"/><circle cx="1206.0" cy="1301.6" r="23"/><circle cx="1357.3" cy="1120.2" r="23"/><circle cx="1371.4" cy="1126.2" r="23"/><circle cx="1270.6" cy="1216.9" r="23"/><circle cx="1280.6" cy="1277.4" r="23"/><circle cx="1381.5" cy="1317.7" r="23"/><circle cx="1266.5" cy="1422.6" r="23"/><circle cx="455.1" cy="1267.9" r="23"/><circle cx="567.4" cy="1248.7" r="23"/><circle cx="784.6" cy="1287.0" r="23"/><circle cx="1159.8" cy="1284.1" r="23"/><circle cx="760.2" cy="1149.3" r="23"/><circle cx="1214.9" cy="1457.6" r="23"/><circle cx="938.2" cy="1037.1" r="23"/><circle cx="745.3" cy="1209.8" r="23"/><circle cx="1198.4" cy="1191.7" r="23"/><circle cx="1046.2" cy="919.9" r="23"/><circle cx="843.8" cy="860.7" r="23"/><circle cx="972.7" cy="918.4" r="23"/><circle cx="909.2" cy="1377.7" r="23"/><circle cx="652.3" cy="843.8" r="23"/><circle cx="631.4" cy="1250.8" r="23"/><circle cx="1042.1" cy="813.1" r="23"/><circle cx="1009.3" cy="957.3" r="23"/><circle cx="722.0" cy="917.5" r="23"/><circle cx="681.1" cy="814.4" r="23"/><circle cx="1082.2" cy="1317.6" r="23"/><circle cx="1223.6" cy="1488.9" r="23"/><circle cx="670.2" cy="1346.1" r="23"/><circle cx="920.2" cy="1187.1" r="23"/><circle cx="725.7" cy="1070.8" r="23"/><circle cx="816.6" cy="1224.2" r="23"/><circle cx="1013.1" cy="1165.8" r="23"/><circle cx="704.9" cy="1032.7" r="23"/><circle cx="939.1" cy="1278.6" r="23"/><circle cx="686.1" cy="1285.2" r="23"/><circle cx="574.5" cy="966.2" r="23"/><circle cx="556.4" cy="939.0" r="23"/><circle cx="1141.6" cy="1362.1" r="23"/><circle cx="1034.2" cy="944.3" r="23"/></g>
<g fill="#e8481f" fill-opacity="0.6"><circle cx="1305.0" cy="1674.0" r="23"/><circle cx="1295.0" cy="1658.0" r="23"/><circle cx="1287.0" cy="1641.0" r="23"/><circle cx="1290.0" cy="1625.0" r="23"/><circle cx="1292.0" cy="1608.0" r="23"/><circle cx="1292.0" cy="1593.0" r="23"/><circle cx="1335.0" cy="1600.0" r="23"/><circle cx="1352.0" cy="1612.0" r="23"/><circle cx="1300.0" cy="1575.0" r="23"/><circle cx="1325.0" cy="1580.0" r="23"/></g>
<g fill="#e8401f"><circle cx="1345.0" cy="1738.0" r="22.5"/><circle cx="1345.0" cy="1722.0" r="22.5"/><circle cx="1343.0" cy="1706.0" r="22.5"/><circle cx="1338.0" cy="1690.0" r="22.5"/><circle cx="1350.0" cy="1690.0" r="22.5"/><circle cx="1330.0" cy="1674.0" r="22.5"/><circle cx="1345.0" cy="1674.0" r="22.5"/><circle cx="1320.0" cy="1658.0" r="22.5"/><circle cx="1342.0" cy="1658.0" r="22.5"/><circle cx="1312.0" cy="1641.0" r="22.5"/><circle cx="1338.0" cy="1641.0" r="22.5"/><circle cx="1315.0" cy="1625.0" r="22.5"/><circle cx="1340.0" cy="1625.0" r="22.5"/><circle cx="1315.0" cy="1608.0" r="22.5"/><circle cx="1310.0" cy="1593.0" r="22.5"/></g>
<g fill="#ff0000" fill-opacity="0.19" stroke="#ff0000" stroke-opacity="0.11" stroke-width="9"><circle cx="1063.9" cy="441.8" r="17.5"/><circle cx="988.5" cy="481.5" r="17.5"/><circle cx="919.4" cy="519.0" r="17.5"/><circle cx="1030.8" cy="565.6" r="17.5"/><circle cx="1030.8" cy="565.6" r="17.5"/><circle cx="858.0" cy="653.5" r="17.5"/><circle cx="777.4" cy="719.7" r="17.5"/><circle cx="804.7" cy="751.4" r="17.5"/><circle cx="898.3" cy="774.4" r="17.5"/><circle cx="1038.0" cy="768.7" r="17.5"/><circle cx="1159.0" cy="785.9" r="17.5"/><circle cx="1108.6" cy="814.7" r="17.5"/><circle cx="1164.7" cy="826.3" r="17.5"/><circle cx="856.6" cy="823.4" r="17.5"/><circle cx="997.7" cy="809.0" r="17.5"/><circle cx="1009.2" cy="814.7" r="17.5"/><circle cx="1009.2" cy="814.7" r="17.5"/><circle cx="692.7" cy="801.6" r="17.5"/><circle cx="799.3" cy="1003.2" r="17.5"/><circle cx="359.4" cy="1226.7" r="17.5"/><circle cx="1226.2" cy="929.8" r="17.5"/><circle cx="1111.0" cy="1168.8" r="17.5"/><circle cx="1224.2" cy="910.5" r="17.5"/><circle cx="1235.7" cy="982.5" r="17.5"/><circle cx="1273.2" cy="994.0" r="17.5"/><circle cx="1218.4" cy="1048.7" r="17.5"/><circle cx="1293.3" cy="1091.9" r="17.5"/><circle cx="1239.8" cy="1102.3" r="17.5"/><circle cx="1345.9" cy="999.5" r="17.5"/><circle cx="1319.9" cy="1034.1" r="17.5"/><circle cx="1322.8" cy="1097.5" r="17.5"/><circle cx="1295.8" cy="1460.2" r="17.5"/><circle cx="1315.9" cy="1497.6" r="17.5"/><circle cx="1292.9" cy="1506.3" r="17.5"/><circle cx="1333.2" cy="1491.9" r="17.5"/><circle cx="1220.9" cy="1535.1" r="17.5"/><circle cx="1209.4" cy="1575.4" r="17.5"/><circle cx="1344.7" cy="1584.0" r="17.5"/><circle cx="1290.0" cy="1601.3" r="17.5"/><circle cx="1304.4" cy="1627.2" r="17.5"/><circle cx="1333.2" cy="1624.4" r="17.5"/><circle cx="1275.6" cy="1624.4" r="17.5"/><circle cx="1348.5" cy="1449.5" r="17.5"/><circle cx="1368.7" cy="1501.4" r="17.5"/><circle cx="1288.0" cy="1484.1" r="17.5"/><circle cx="1337.0" cy="1541.7" r="17.5"/><circle cx="1354.3" cy="1553.2" r="17.5"/><circle cx="1316.8" cy="1550.3" r="17.5"/><circle cx="1299.5" cy="1567.6" r="17.5"/><circle cx="1365.8" cy="1567.6" r="17.5"/><circle cx="1313.9" cy="1582.0" r="17.5"/><circle cx="1310.2" cy="1476.2" r="17.5"/><circle cx="1261.7" cy="1533.3" r="17.5"/><circle cx="1256.0" cy="1561.9" r="17.5"/><circle cx="1355.9" cy="1601.8" r="17.5"/><circle cx="1273.1" cy="1573.3" r="17.5"/><circle cx="1238.9" cy="1561.9" r="17.5"/><circle cx="1313.1" cy="1443.7" r="17.5"/><circle cx="1348.2" cy="1468.5" r="17.5"/><circle cx="1299.7" cy="1537.0" r="17.5"/><circle cx="1371.0" cy="1628.4" r="17.5"/><circle cx="1356.8" cy="1651.2" r="17.5"/><circle cx="1328.2" cy="1571.3" r="17.5"/><circle cx="1339.6" cy="1599.8" r="17.5"/><circle cx="1356.8" cy="1617.0" r="17.5"/><circle cx="660.2" cy="890.5" r="17.5"/><circle cx="783.2" cy="951.0" r="17.5"/><circle cx="740.9" cy="874.4" r="17.5"/><circle cx="547.3" cy="1055.9" r="17.5"/><circle cx="684.4" cy="1102.2" r="17.5"/><circle cx="740.9" cy="1114.3" r="17.5"/><circle cx="755.0" cy="1025.6" r="17.5"/><circle cx="690.5" cy="828.1" r="17.5"/><circle cx="702.6" cy="826.0" r="17.5"/><circle cx="763.1" cy="872.4" r="17.5"/><circle cx="738.9" cy="1023.6" r="17.5"/><circle cx="734.8" cy="838.2" r="17.5"/><circle cx="908.9" cy="890.5" r="17.5"/><circle cx="842.3" cy="916.8" r="17.5"/><circle cx="1191.1" cy="971.2" r="17.5"/><circle cx="1023.8" cy="999.4" r="17.5"/><circle cx="856.4" cy="1019.6" r="17.5"/><circle cx="916.9" cy="1059.9" r="17.5"/><circle cx="989.5" cy="1045.8" r="17.5"/><circle cx="1114.5" cy="1080.1" r="17.5"/><circle cx="1191.1" cy="1084.1" r="17.5"/><circle cx="1150.8" cy="1124.4" r="17.5"/><circle cx="892.7" cy="1144.6" r="17.5"/><circle cx="1084.3" cy="1136.5" r="17.5"/><circle cx="868.5" cy="842.2" r="17.5"/><circle cx="846.4" cy="874.4" r="17.5"/><circle cx="991.5" cy="826.0" r="17.5"/><circle cx="987.5" cy="866.4" r="17.5"/><circle cx="1001.6" cy="872.4" r="17.5"/><circle cx="1072.2" cy="878.5" r="17.5"/><circle cx="1098.4" cy="884.5" r="17.5"/><circle cx="1142.7" cy="866.4" r="17.5"/><circle cx="1169.0" cy="866.4" r="17.5"/><circle cx="1082.3" cy="916.8" r="17.5"/><circle cx="1142.7" cy="916.8" r="17.5"/><circle cx="1166.9" cy="908.7" r="17.5"/><circle cx="1138.7" cy="945.0" r="17.5"/><circle cx="1011.7" cy="973.2" r="17.5"/><circle cx="1142.7" cy="967.2" r="17.5"/><circle cx="1134.7" cy="993.4" r="17.5"/><circle cx="1134.7" cy="993.4" r="17.5"/><circle cx="1146.8" cy="1001.5" r="17.5"/><circle cx="1193.1" cy="1011.5" r="17.5"/><circle cx="959.3" cy="995.4" r="17.5"/><circle cx="937.1" cy="1001.5" r="17.5"/><circle cx="929.0" cy="1021.6" r="17.5"/><circle cx="1076.2" cy="1047.8" r="17.5"/><circle cx="886.7" cy="1074.0" r="17.5"/><circle cx="908.9" cy="1078.1" r="17.5"/><circle cx="818.1" cy="1047.8" r="17.5"/><circle cx="1195.2" cy="1142.6" r="17.5"/><circle cx="1132.7" cy="1152.7" r="17.5"/><circle cx="1183.1" cy="1132.5" r="17.5"/><circle cx="1021.8" cy="832.1" r="17.5"/><circle cx="1021.8" cy="832.1" r="17.5"/><circle cx="1021.8" cy="955.1" r="17.5"/><circle cx="458.6" cy="1204.3" r="17.5"/><circle cx="404.2" cy="1250.6" r="17.5"/><circle cx="856.4" cy="1184.1" r="17.5"/><circle cx="882.6" cy="1297.0" r="17.5"/><circle cx="1003.6" cy="1345.4" r="17.5"/><circle cx="1094.3" cy="1349.4" r="17.5"/><circle cx="1185.1" cy="1333.3" r="17.5"/><circle cx="894.7" cy="1413.9" r="17.5"/><circle cx="1191.1" cy="1440.1" r="17.5"/><circle cx="1074.2" cy="1192.2" r="17.5"/><circle cx="1096.4" cy="1220.4" r="17.5"/><circle cx="1211.3" cy="1373.6" r="17.5"/><circle cx="1211.3" cy="1373.6" r="17.5"/><circle cx="1021.8" cy="1228.5" r="17.5"/><circle cx="987.5" cy="1347.4" r="17.5"/><circle cx="874.6" cy="1399.8" r="17.5"/><circle cx="1193.1" cy="1194.2" r="17.5"/><circle cx="1173.0" cy="1337.3" r="17.5"/><circle cx="1211.3" cy="1258.7" r="17.5"/><circle cx="1072.2" cy="1414.0" r="17.5"/><circle cx="1175.0" cy="1208.3" r="17.5"/><circle cx="1359.3" cy="1122.2" r="17.5"/><circle cx="1373.4" cy="1128.2" r="17.5"/><circle cx="1272.6" cy="1218.9" r="17.5"/><circle cx="1282.6" cy="1279.4" r="17.5"/><circle cx="1383.5" cy="1319.7" r="17.5"/><circle cx="1268.5" cy="1424.6" r="17.5"/><circle cx="1314.9" cy="1120.2" r="17.5"/><circle cx="1216.1" cy="1154.4" r="17.5"/><circle cx="1411.7" cy="1126.2" r="17.5"/><circle cx="1421.8" cy="1152.4" r="17.5"/><circle cx="1361.3" cy="1164.5" r="17.5"/><circle cx="1391.5" cy="1166.5" r="17.5"/><circle cx="1417.7" cy="1184.7" r="17.5"/><circle cx="1375.4" cy="1188.7" r="17.5"/><circle cx="1296.8" cy="1206.9" r="17.5"/><circle cx="1314.9" cy="1221.0" r="17.5"/><circle cx="1365.3" cy="1204.8" r="17.5"/><circle cx="1347.2" cy="1241.1" r="17.5"/><circle cx="1280.6" cy="1253.2" r="17.5"/><circle cx="1312.9" cy="1257.3" r="17.5"/><circle cx="1401.6" cy="1261.3" r="17.5"/><circle cx="1401.6" cy="1261.3" r="17.5"/><circle cx="1397.6" cy="1281.5" r="17.5"/><circle cx="1397.6" cy="1281.5" r="17.5"/><circle cx="1321.0" cy="1315.7" r="17.5"/><circle cx="1401.6" cy="1305.6" r="17.5"/><circle cx="1284.7" cy="1366.1" r="17.5"/><circle cx="1284.7" cy="1366.1" r="17.5"/><circle cx="1341.1" cy="1368.1" r="17.5"/><circle cx="1377.4" cy="1368.1" r="17.5"/><circle cx="1391.5" cy="1382.3" r="17.5"/><circle cx="1325.0" cy="1398.4" r="17.5"/><circle cx="1276.6" cy="1392.3" r="17.5"/><circle cx="1226.2" cy="1253.2" r="17.5"/><circle cx="1212.1" cy="1166.5" r="17.5"/><circle cx="1260.5" cy="1190.7" r="17.5"/></g>
<rect x="1341" y="23" width="1019" height="470" rx="15" ry="15" fill="#ffffff" fill-opacity="0.8" stroke="#d4d4d4" stroke-opacity="0.8" stroke-width="7"/><g fill="#ff0000" fill-opacity="0.2" stroke="#ff0000" stroke-opacity="0.13" stroke-width="9"><circle cx="1448.0" cy="94.5" r="17.5"/></g><g fill="#0000ff" fill-opacity="0.2" stroke="#0000ff" stroke-opacity="0.13" stroke-width="9"><circle cx="1448.0" cy="207.3" r="17.5"/></g><circle cx="1448.0" cy="320.0" r="21.5" fill="#f0ab33"/><circle cx="1448.0" cy="432.4" r="21.5" fill="#2e7d1e"/><g font-family="'DejaVu Sans','Liberation Sans',sans-serif" stroke="#222" stroke-width="1.7" stroke-linejoin="round"><text x="1579.0" y="119.0" font-size="75" text-anchor="start" fill="#222">Member Before</text><text x="1579.0" y="227.0" font-size="75" text-anchor="start" fill="#222">Non-Member Before</text><text x="1579.0" y="339.5" font-size="75" text-anchor="start" fill="#222">Member After</text><text x="1579.0" y="451.9" font-size="75" text-anchor="start" fill="#222">Non-Member After</text></g>
</g>
<g stroke="#0a00e6" stroke-width="18.5" fill="none" stroke-linecap="butt"><line x1="295.0" y1="1343.0" x2="366.5" y2="1313.0"/><line x1="419.8" y1="1283.0" x2="483.0" y2="1248.0"/><line x1="537.8" y1="1216.6" x2="602.0" y2="1181.8"/><line x1="654.5" y1="1153.0" x2="722.8" y2="1116.5"/><line x1="775.5" y1="1086.4" x2="811.9" y2="1067.2"/><polyline points="734.6,1067.5 811.9,1067.5 773.7,1131.3" stroke-linejoin="miter"/></g>
<g stroke="#ff0000" stroke-width="18.5" fill="none" stroke-linecap="butt"><line x1="999.4" y1="1105.2" x2="1033.4" y2="1162.4"/><line x1="1063.3" y1="1211.3" x2="1105.6" y2="1277.8"/><line x1="1133.9" y1="1330.2" x2="1176.2" y2="1392.7"/><line x1="1204.4" y1="1445.2" x2="1246.8" y2="1509.7"/><line x1="1275.0" y1="1560.0" x2="1317.3" y2="1624.6"/><polyline points="1061.7,1139.4 998.6,1105.2 998.6,1182.3" stroke-linejoin="miter"/></g>
</svg>
</body></html>
